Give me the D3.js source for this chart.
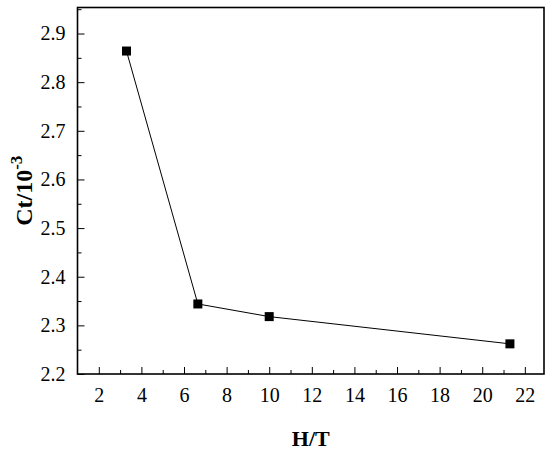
<!DOCTYPE html>
<html><head><meta charset="utf-8">
<script src="https://cdn.jsdelivr.net/npm/d3@7"></script>
<style>body{margin:0;background:#fff} .tk text{font-family:"Liberation Serif","Times New Roman",serif !important;font-size:20px !important;fill:#000}</style></head>
<body><svg id="c" width="550" height="456"></svg>
<script>
const xValues=[3.3,6.65,10.0,21.3];
const yValues=[2.864,2.344,2.318,2.262];
const xTicks=[2,4,6,8,10,12,14,16,18,20,22];
const yTicks=[2.2,2.3,2.4,2.5,2.6,2.7,2.8,2.9];
const L=77.5,R=544,T=7.5,B=374;
const svg=d3.select("#c");
const x=d3.scaleLinear().domain([1,22.9]).range([L,R]);
const y=d3.scaleLinear().domain([2.2,2.9535]).range([B,T]);
const font="Liberation Serif, Times New Roman, serif";
const g=svg.append("g");
g.append("g").attr("class","tk").attr("transform",`translate(0,${B})`).call(d3.axisBottom(x).tickValues(xTicks).tickSizeInner(-7).tickSizeOuter(0).tickPadding(14).tickFormat(d3.format("d")))
 .call(a=>a.select(".domain").remove());
g.append("g").attr("transform",`translate(0,${B})`).call(d3.axisBottom(x).tickValues(d3.range(3,23,2)).tickSize(-4).tickFormat(""))
 .call(a=>a.select(".domain").remove());
g.append("g").attr("class","tk").attr("transform",`translate(${L},0)`).call(d3.axisLeft(y).tickValues(yTicks).tickSizeInner(-7).tickSizeOuter(0).tickPadding(12).tickFormat(d3.format(".1f")))
 .call(a=>a.select(".domain").remove());
g.append("g").attr("transform",`translate(${L},0)`).call(d3.axisLeft(y).tickValues(d3.range(2.25,2.95,0.1)).tickSize(-4).tickFormat(""))
 .call(a=>a.select(".domain").remove());
svg.append("rect").attr("x",L).attr("y",T).attr("width",R-L).attr("height",B-T).attr("fill","none").attr("stroke","#000").attr("stroke-width",1.6);
const pts=xValues.map((v,i)=>[v,yValues[i]]);
svg.append("path").attr("d",d3.line().x(d=>x(d[0])).y(d=>y(d[1]))(pts)).attr("fill","none").attr("stroke","#000").attr("stroke-width",1);
svg.selectAll(".m").data(pts).enter().append("rect").attr("x",d=>x(d[0])-4.5).attr("y",d=>y(d[1])-4.5).attr("width",9).attr("height",9).attr("fill","#000");
svg.append("text").attr("x",(L+R)/2).attr("y",446).attr("text-anchor","middle").style("font-family",font).style("font-size","22px").style("font-weight","bold").text("H/T");
const yl=svg.append("text").attr("transform",`translate(32,${(T+B)/2}) rotate(-90)`).attr("text-anchor","middle").style("font-family",font).style("font-size","24px").style("font-weight","bold");
yl.append("tspan").text("Ct/10");
yl.append("tspan").attr("dy",-10).style("font-size","17px").text("-3");
</script></body></html>
